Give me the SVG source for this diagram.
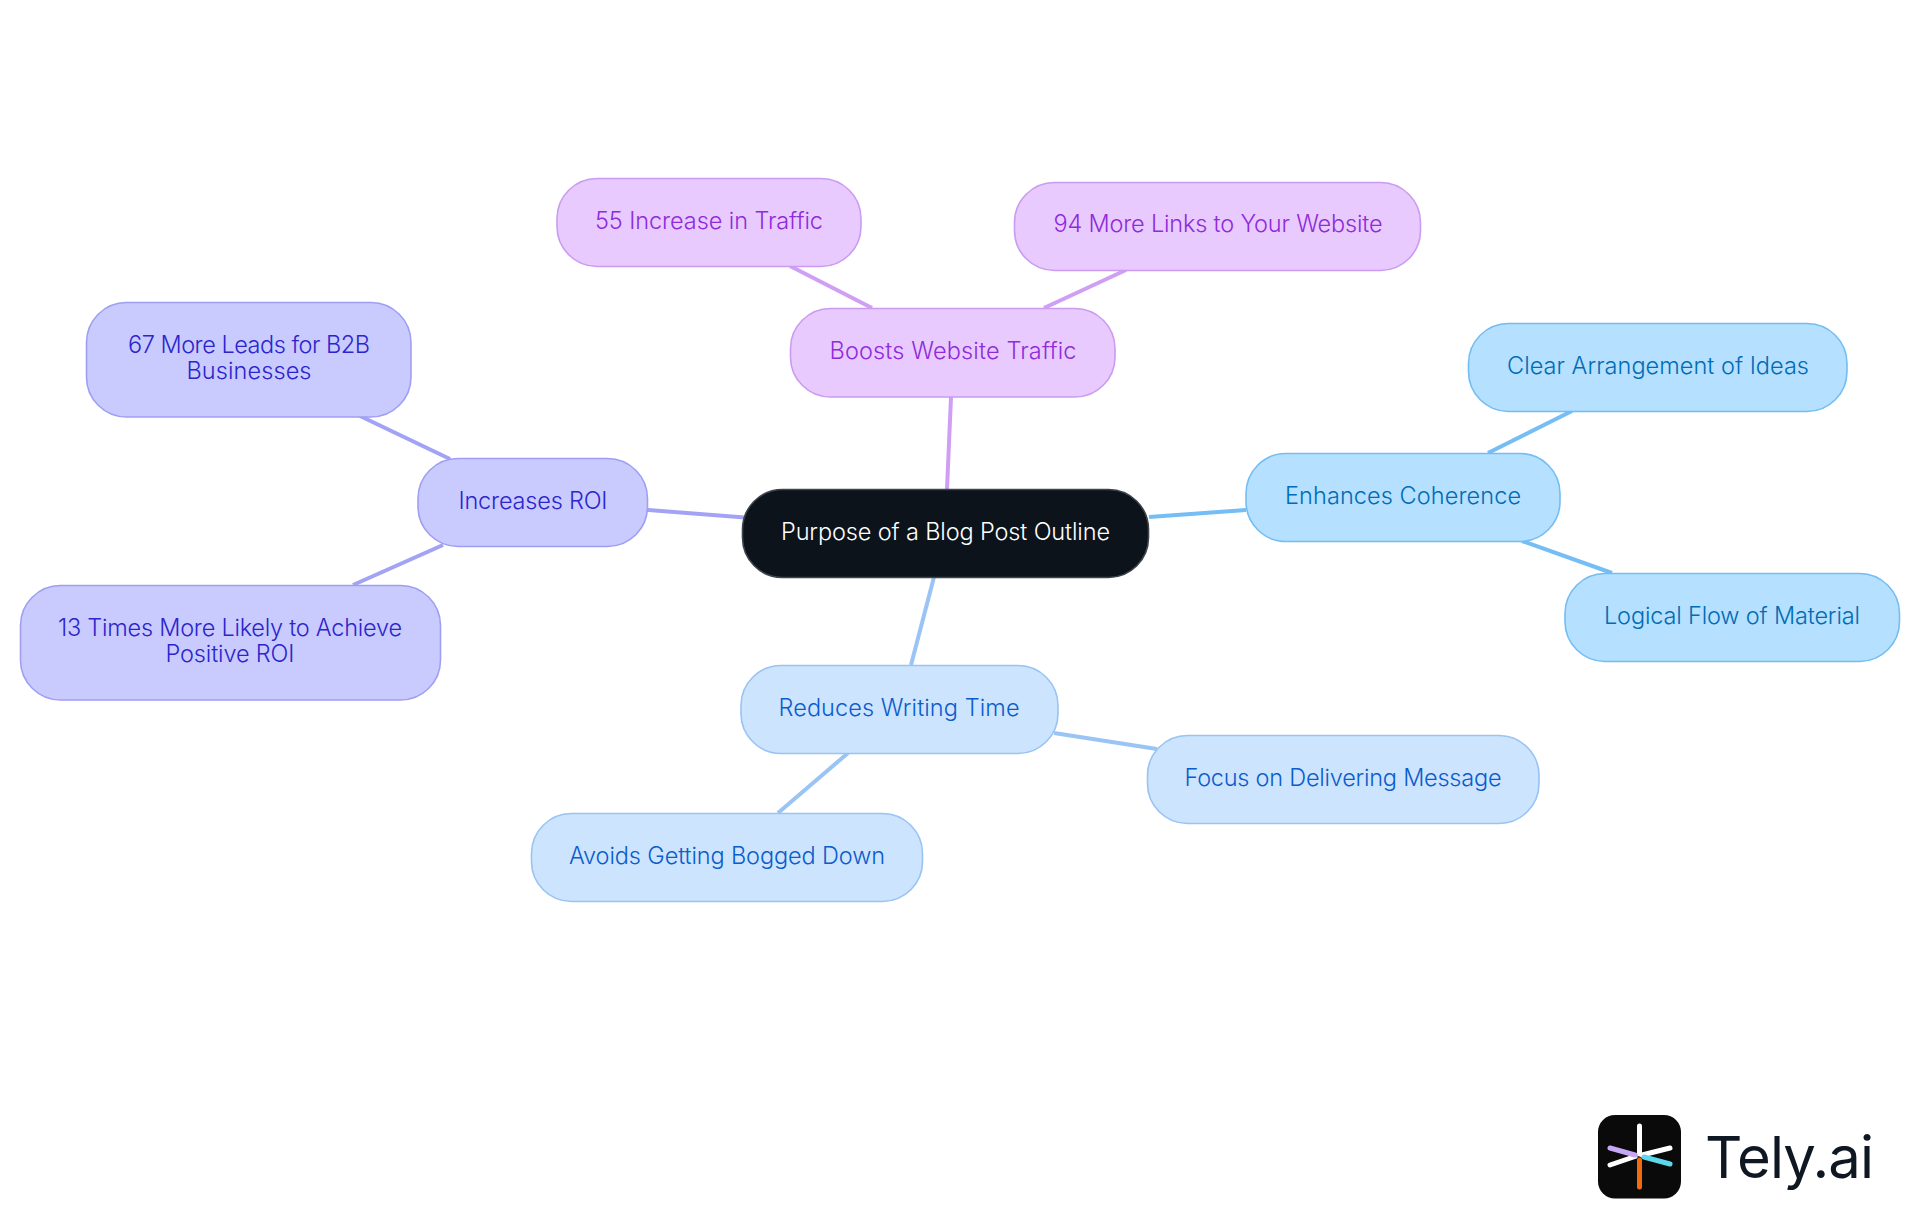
<svg xmlns="http://www.w3.org/2000/svg" width="1920" height="1215" viewBox="0 0 1920 1215">
<style>
text{font-family:"Inter","Noto Sans","Liberation Sans",sans-serif;font-size:23.5px;font-weight:350;text-anchor:middle}
.n{stroke-width:1.6}
.c{fill:none;stroke-width:4}
.v{fill:#c9cbff;stroke:#9e9ff2}.vt{fill:#2c25cc}
.p{fill:#e8caff;stroke:#cb9bf0}.pt{fill:#8f2bd9}
.s{fill:#b5e0ff;stroke:#74bdf2}.st{fill:#006cb5}
.b{fill:#cde4fe;stroke:#98c3f2}.bt{fill:#0b5ccc}
.lv{stroke:#a2a3f4}.lp{stroke:#cf9ff5}.ls{stroke:#75bef5}.lb{stroke:#99c4f3}
</style>
<rect width="1920" height="1215" fill="#fff"/>
<g id="connectors">
<path class="c lv" d="M944 533 L520 500"/>
<path class="c lv" d="M450 459 L360 416"/>
<path class="c lv" d="M443 545 L353 585"/>
<path class="c lp" d="M947 489 L951 397"/>
<path class="c lp" d="M872 308 L790 266"/>
<path class="c lp" d="M1044 308 L1126 270"/>
<path class="c ls" d="M1149 517 L1246 510"/>
<path class="c ls" d="M1488 453 L1572 411"/>
<path class="c ls" d="M1522 541 L1612 573"/>
<path class="c lb" d="M934 577 L911 665"/>
<path class="c lb" d="M1054 733 L1157 749"/>
<path class="c lb" d="M848 753 L778 813"/>
</g>
<g id="root"><rect x="742.500" y="489.500" width="406" height="88" rx="40" fill="#0c131b" stroke="#3e444b" class="n"/><text x="945.500" y="540" fill="#fff" textLength="329">Purpose of a Blog Post Outline</text></g>
<g id="increases"><rect class="n v" x="418" y="458.500" width="229.500" height="88" rx="40"/><text class="vt" x="533" y="509" textLength="149">Increases ROI</text></g>
<g id="leads"><rect class="n v" x="86.500" y="302.500" width="324.500" height="114.500" rx="40"/><text class="vt" x="249" y="353" textLength="242">67 More Leads for B2B</text><text class="vt" x="249" y="379" textLength="125">Businesses</text></g>
<g id="times"><rect class="n v" x="20.500" y="585.500" width="420" height="114.500" rx="40"/><text class="vt" x="230" y="636" textLength="344">13 Times More Likely to Achieve</text><text class="vt" x="230" y="662" textLength="129">Positive ROI</text></g>
<g id="boosts"><rect class="n p" x="790.500" y="308.500" width="324.500" height="88.500" rx="40"/><text class="pt" x="953" y="359" textLength="247">Boosts Website Traffic</text></g>
<g id="traffic"><rect class="n p" x="557" y="178.500" width="304" height="88" rx="40"/><text class="pt" x="709" y="229" textLength="228">55 Increase in Traffic</text></g>
<g id="links"><rect class="n p" x="1014.500" y="182.500" width="406" height="88" rx="40"/><text class="pt" x="1218" y="232" textLength="329">94 More Links to Your Website</text></g>
<g id="enhances"><rect class="n s" x="1246" y="453.500" width="314" height="88" rx="40"/><text class="st" x="1403" y="504" textLength="236">Enhances Coherence</text></g>
<g id="clear"><rect class="n s" x="1468.500" y="323.500" width="378.500" height="88" rx="40"/><text class="st" x="1658" y="374" textLength="302">Clear Arrangement of Ideas</text></g>
<g id="logical"><rect class="n s" x="1565" y="573.500" width="334.500" height="88" rx="40"/><text class="st" x="1732" y="624" textLength="256">Logical Flow of Material</text></g>
<g id="reduces"><rect class="n b" x="741" y="665.500" width="317" height="88" rx="40"/><text class="bt" x="899" y="716" textLength="241">Reduces Writing Time</text></g>
<g id="focus"><rect class="n b" x="1147.500" y="735.500" width="391.500" height="88" rx="40"/><text class="bt" x="1343" y="786" textLength="317">Focus on Delivering Message</text></g>
<g id="avoids"><rect class="n b" x="531.500" y="813.500" width="391" height="88" rx="40"/><text class="bt" x="727" y="864" textLength="316">Avoids Getting Bogged Down</text></g>
<g id="logo">
<rect x="1598" y="1115" width="83" height="83.500" rx="17" fill="#0a0a0a"/>
<g fill="none" stroke-width="5" stroke-linecap="round">
<path d="M1639.500 1126V1154M1610 1165L1635 1156.500M1642 1155L1670 1148" stroke="#fff"/>
<path d="M1610 1148L1635 1155" stroke="#c4a8f5"/>
<path d="M1644 1157L1670 1164" stroke="#5ad9ec"/>
<path d="M1639.500 1160V1187" stroke="#f26a0f"/>
</g>
<text x="1705" y="1178" style="font-size:58px;text-anchor:start;font-weight:400" fill="#0f1722" textLength="169">Tely.ai</text>
</g>
</svg>
